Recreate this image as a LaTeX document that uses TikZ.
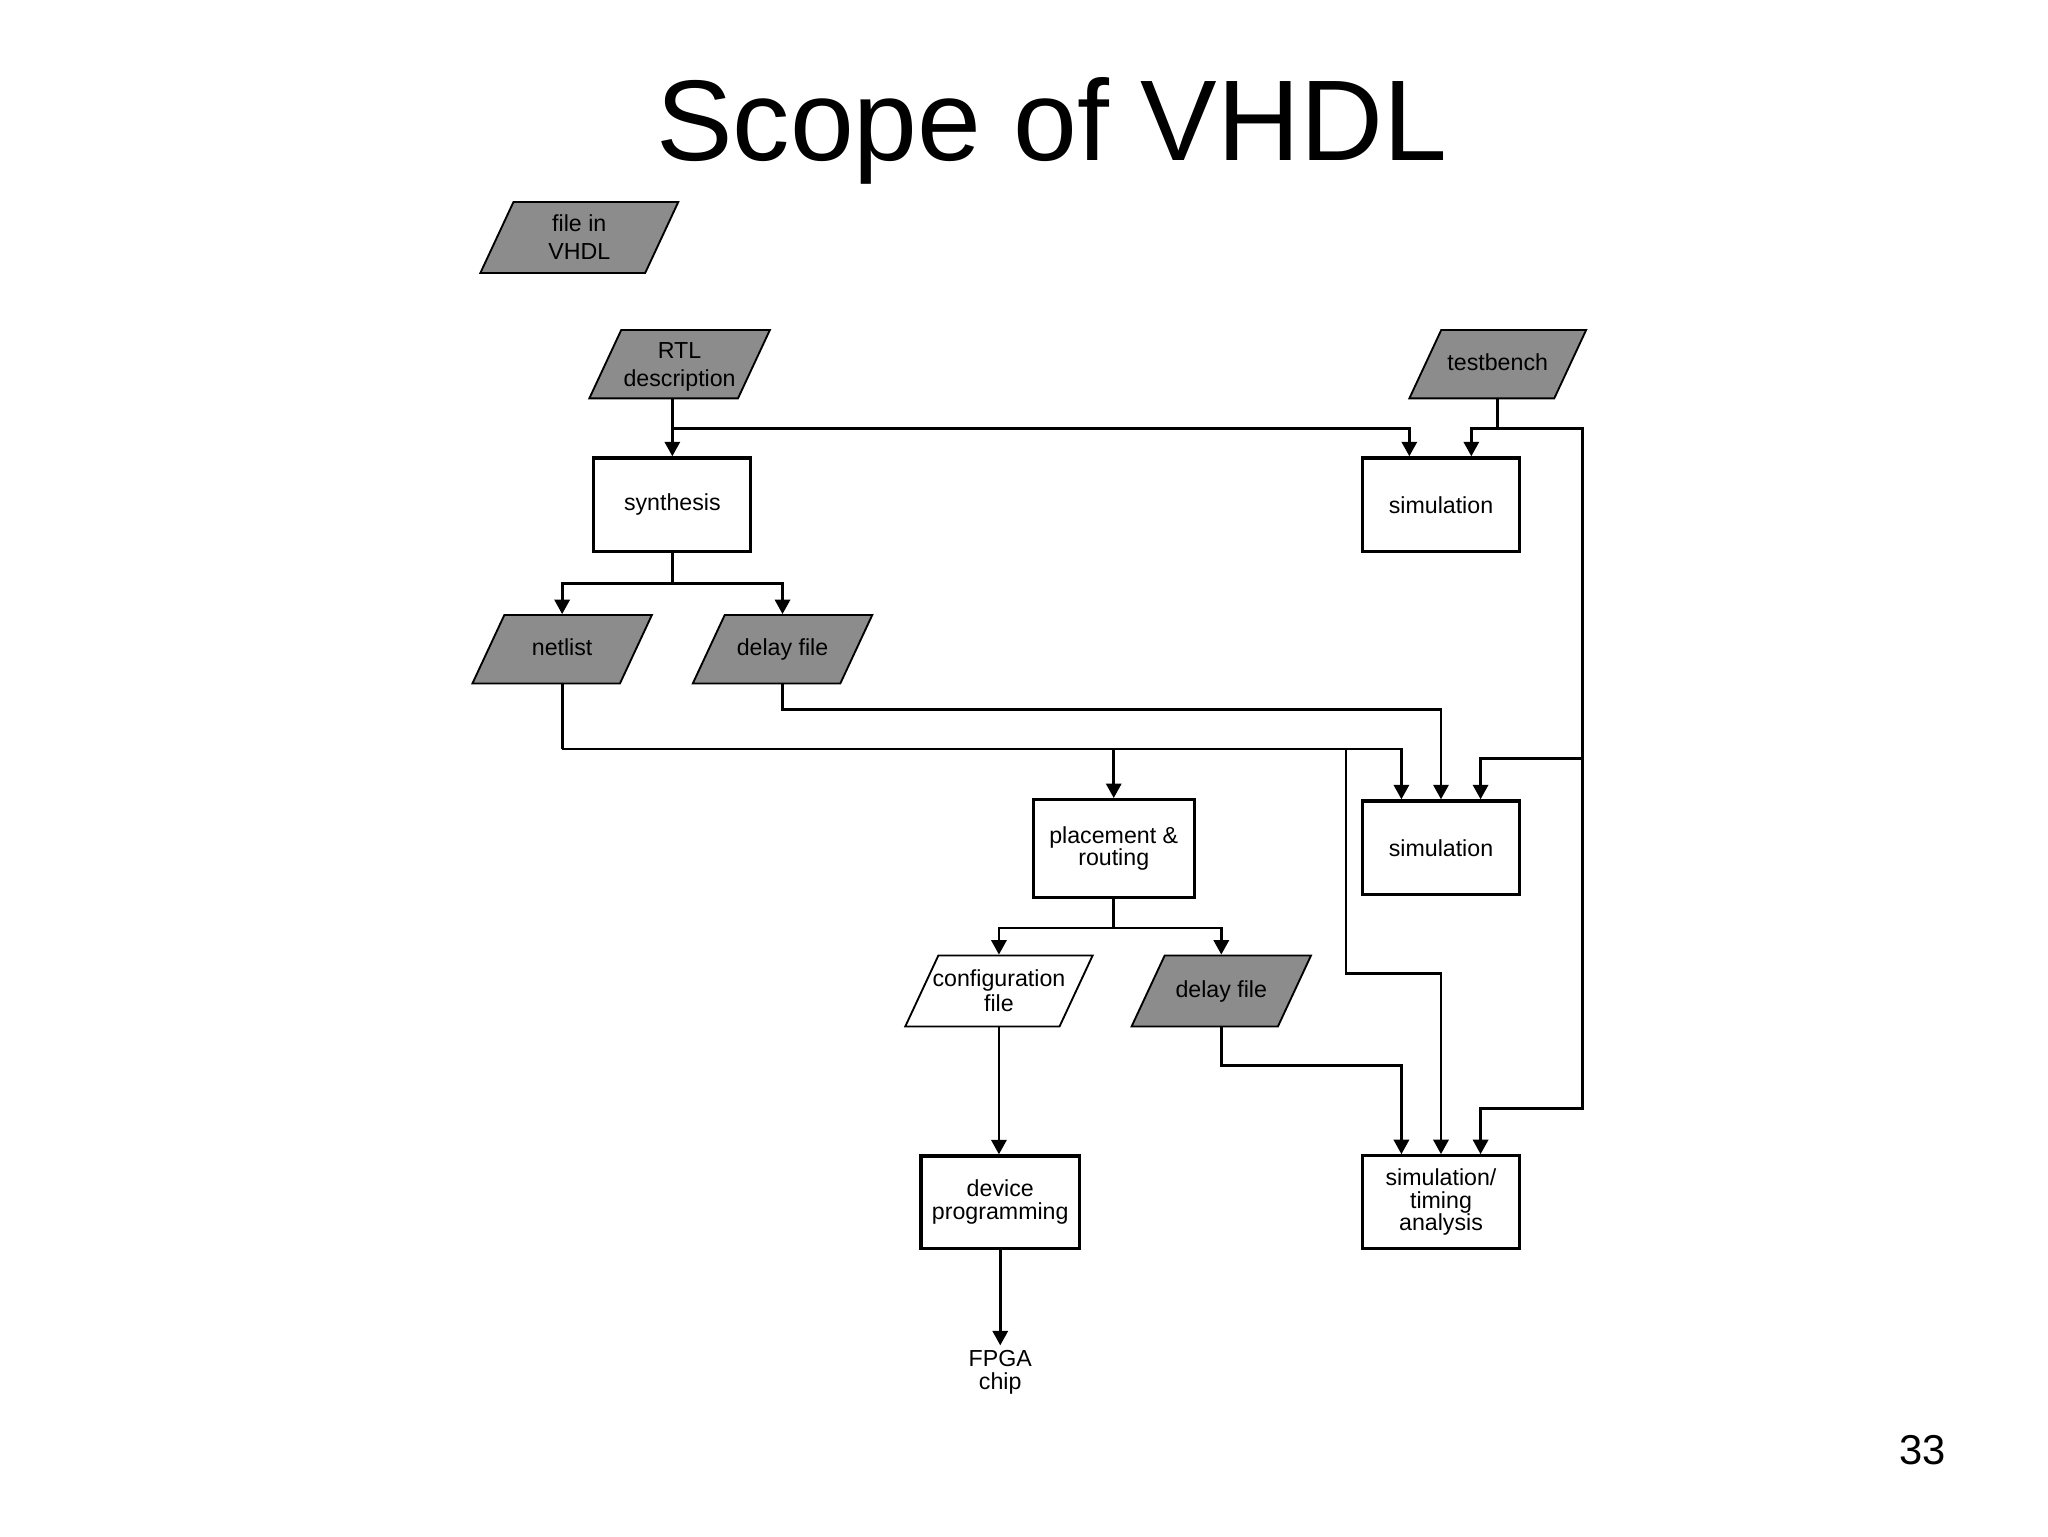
\documentclass[tikz,border=0pt]{standalone}
\usepackage{fontspec}
\setmainfont{Liberation Sans}
\usepackage{tikz}
\usetikzlibrary{arrows.meta, shapes, positioning}
\definecolor{filegray}{RGB}{140,140,140}

\begin{document}
\begin{tikzpicture}[x=0.02cm, y=-0.02cm, on grid, node distance=5.2cm,
	font=\fontsize{10}{9.8}\selectfont,
	proc/.style={draw, rectangle, line width=1.4pt, minimum width=2.38cm, minimum height=1.42cm, align=center, inner sep=1pt},
	file/.style={draw, trapezium, trapezium left angle=65, trapezium right angle=115, trapezium stretches body, fill=filegray, line width=0.8pt, minimum width=2.72cm, align=center, inner xsep=1pt, inner ysep=0pt, text height=17.5pt, text depth=12pt},
	twolines/.style={font=\fontsize{10}{12}\selectfont, text height=24.4pt, text depth=5.1pt},
	wire/.style={line width=1.2pt},
	flow/.style={wire, -{Triangle[length=0.22cm,width=0.23cm]}}]
	\useasboundingbox (0,0) rectangle (1552,1164);
	\node[font=\fontsize{49.5}{50}\selectfont, anchor=base] (title) at (797,122) {Scope of VHDL};

	\node[file, twolines, minimum width=3cm, text height=24.9pt, text depth=5.7pt] (vhdl) at (439,180) {file in\\VHDL};
	\node[file, twolines] (rtl) at (515,276) {RTL\\description};
	\node[file, minimum width=2.68cm] (tb) at (1135,276) {testbench};
	\node[proc] (syn) at (509.5,382.5) {synthesis};
	\node[proc] (sim1) at (1092,382.5) {simulation};
	\node[file] (net) at (426,492) {netlist};
	\node[file] (dly1) at (593,492) {delay file};
	\node[proc, minimum width=2.44cm, minimum height=1.48cm] (pr) at (844,643) {placement \&\\routing};
	\node[proc, below=of sim1] (sim2) {simulation};
	\node[file, twolines, fill=white, font=\fontsize{10}{10.8}\selectfont, inner xsep=-3pt, minimum width=2.84cm, text height=24.3pt, text depth=6.3pt] (cfg) at (757,751) {configuration\\file};
	\node[file, text height=18pt, text depth=12.6pt] (dly2) at (925.5,751) {delay file};
	\node[proc, minimum width=2.4cm, minimum height=1.4cm] (dev) at (758,911) {device\\programming};
	\node[proc, below=5.37cm of sim2, minimum height=1.4cm] (sta) {simulation/\\timing\\analysis};
	\node[below=2.58cm of dev, align=center, inner sep=2pt] (chip) {FPGA\\chip};
%	\node (cursor) at (566,392) {};
	\node[font=\fontsize{18}{18}\selectfont, anchor=base] (page) at (1457,1110) {33};

	% RTL and testbench
	\draw[flow] (syn.north |- rtl.south) -- (syn.north);
	\draw[flow] (syn.north |- 0,325) -| ([xshift=-0.48cm]sim1.north);
	\coordinate (tbj) at (tb.south |- 0,325);
	\draw[wire] (tb.south) -- (tbj);
	\draw[flow] (tbj) -| ([xshift=0.46cm]sim1.north);
	\draw[flow] (tbj) -| (1199,575) -| ([xshift=0.6cm]sim2.north);
	\draw[flow] (1199,575) -- (1199,840) -| ([xshift=0.6cm]sta.north);

	% synthesis outputs
	\draw[wire] (syn.south) -- ++(0,23) coordinate (sj);
	\draw[flow] (sj) -| (net.north);
	\draw[flow] (sj) -| (dly1.north);
	\draw[flow] (dly1.south) -- ++(0,19) -| (sim2.north);
	\draw[wire] (net.south) -- ++(0,49) coordinate (nj);
	\draw[flow] (nj) -| ([xshift=-0.6cm]sim2.north);
	\draw[flow] (pr.north |- nj) -- (pr.north);
	\draw[flow] (nj -| 1020,0) -- (1020,738) -| (sta.north);

	% placement & routing outputs
	\draw[wire] (pr.south) -- ++(0,22) coordinate (pj);
	\draw[flow] (pj) -| (cfg.north);
	\draw[flow] (pj) -| (dly2.north);
	\draw[flow] (cfg.south) -- (cfg.south |- dev.north);
	\draw[flow] (dly2.south) -- ++(0,29) -| ([xshift=-0.6cm]sta.north);
	\draw[flow] (dev) -- (chip);
\end{tikzpicture}
\end{document}
